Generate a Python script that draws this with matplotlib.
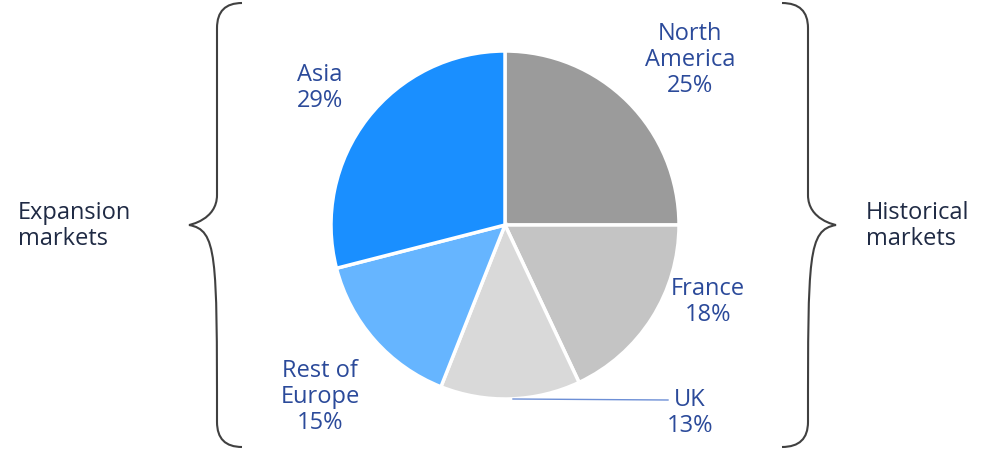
import matplotlib
matplotlib.use("Agg")
import matplotlib.pyplot as plt
from matplotlib.path import Path
from matplotlib.patches import PathPatch

categories = ["North\nAmerica\n25%", "France\n18%", "UK\n13%", "Rest of\nEurope\n15%", "Asia\n29%"]
values = [25, 18, 13, 15, 29]
colors = ["#9b9b9b", "#c4c4c4", "#d9d9d9", "#66b5ff", "#1a8fff"]
label_pos = [(690, 60), (708, 302), (690, 413), (320, 397), (320, 88)]

H = 452
fig = plt.figure(figsize=(9.96, 4.52), dpi=100)
ax = fig.add_axes([0, 0, 1, 1])
ax.set_xlim(0, 996); ax.set_ylim(0, H); ax.set_aspect('equal'); ax.axis('off')

ax.pie(values, colors=colors, startangle=90, counterclock=False, center=(505, H-226), radius=174,
       wedgeprops=dict(edgecolor='white', linewidth=2.5), frame=True)
ax.set_xlim(0, 996); ax.set_ylim(0, H); ax.axis('off')

tc = "#2b4a9a"
for lab, (x, y) in zip(categories, label_pos):
    ax.text(x, H-y, lab, ha='center', va='center', fontsize=17, color=tc, family='Open Sans', linespacing=1.1)

ax.plot([513, 668], [H-400, H-401], color="#6d8fd6", lw=1)

ax.text(18, H-226, "Expansion\nmarkets", ha='left', va='center', fontsize=17, color="#1f2a44", family='Open Sans', linespacing=1.1)
ax.text(866, H-226, "Historical\nmarkets", ha='left', va='center', fontsize=17, color="#1f2a44", family='Open Sans', linespacing=1.1)

def brace(xe, xm, xt, y0, y1, yc):
    # xe: end x, xm: spine x, xt: tip x
    yt = lambda y: H - y
    verts = [(xe, yt(y0)), (xm, yt(y0)), (xm, yt(y0+25)), (xm, yt(y0+25)),
             (xm, yt(yc-30)),
             (xm, yt(yc-5)), (xt, yt(yc)), (xt, yt(yc)),
             (xt, yt(yc)), (xm, yt(yc+5)), (xm, yt(yc+30)),
             (xm, yt(y1-25)),
             (xm, yt(y1)), (xe, yt(y1)), (xe, yt(y1))]
    codes = [Path.MOVETO, Path.CURVE3, Path.CURVE3, Path.LINETO, Path.LINETO,
             Path.CURVE4, Path.CURVE4, Path.CURVE4,
             Path.LINETO, Path.CURVE4, Path.CURVE4, Path.LINETO,
             Path.CURVE3, Path.CURVE3, Path.LINETO]
    ax.add_patch(PathPatch(Path(verts, codes), fill=False, edgecolor="#404040", lw=1.5))

brace(242, 217, 189, 4, 448, 226)
brace(782, 808, 836, 4, 448, 226)

fig.savefig("out.png", dpi=100)
